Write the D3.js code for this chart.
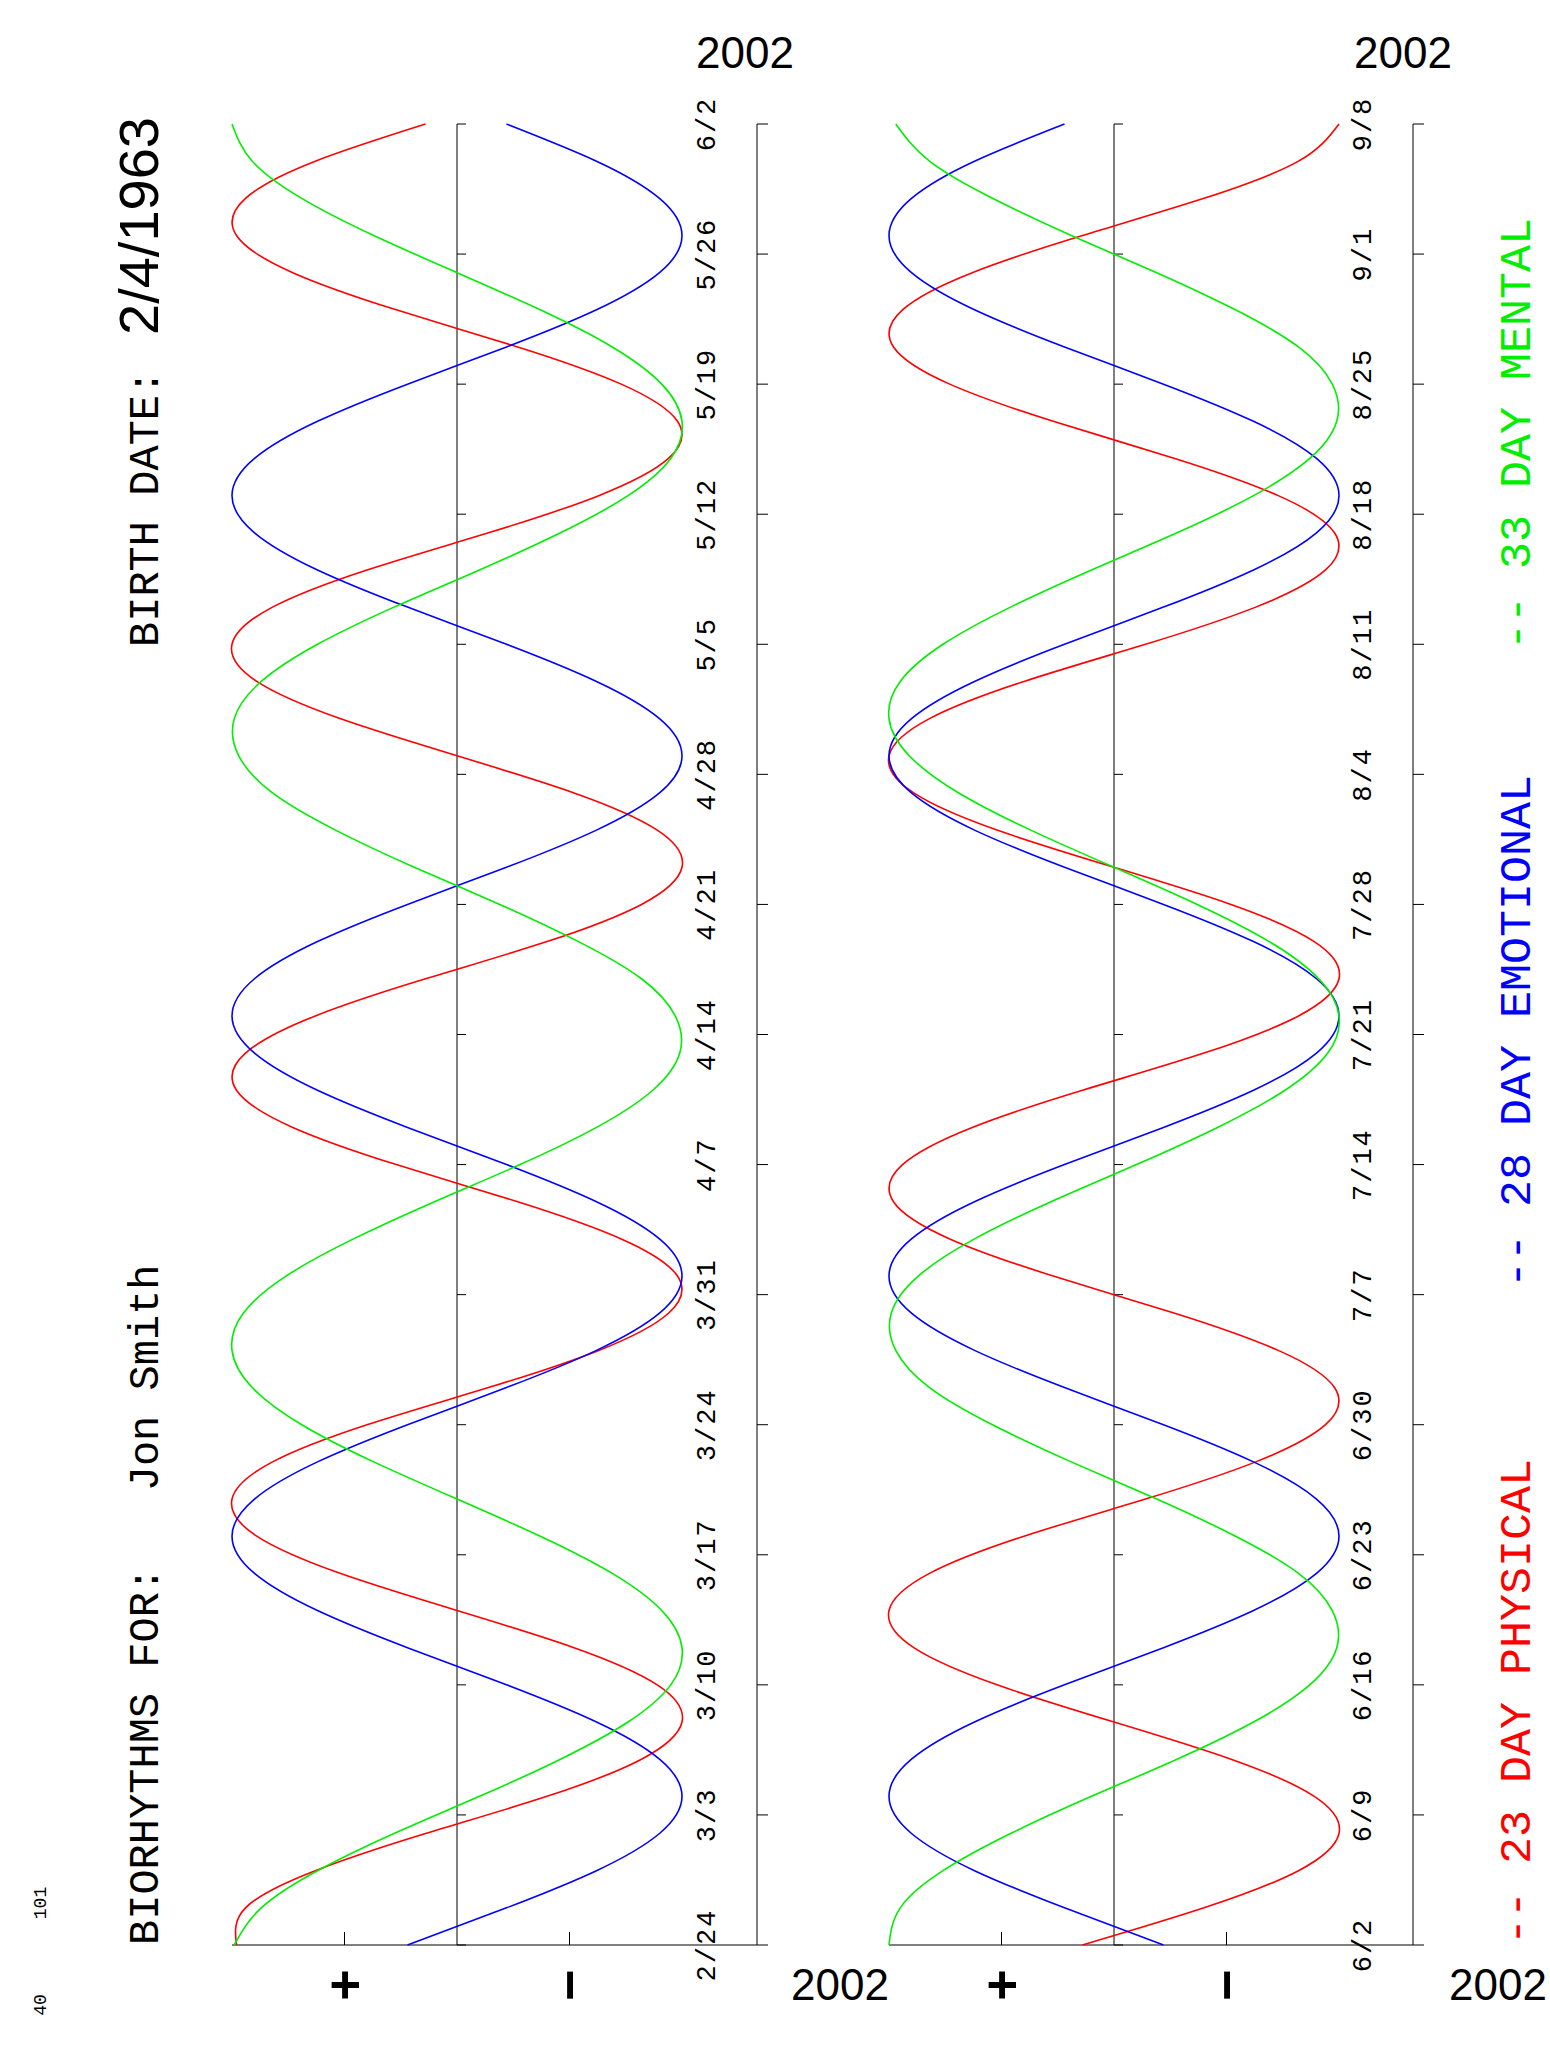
<!DOCTYPE html>
<html><head><meta charset="utf-8">
<script src="https://cdn.jsdelivr.net/npm/d3@7"></script>
<style>body{margin:0;background:#fff}</style>
</head><body>
<svg id="chart" width="1550" height="2048"></svg>
<script>
// one sample every 2 days, starting 2/24/2002, ending 9/8/2002
const startDate = new Date(2002, 1, 24);
const stepDays = 2;

const physical = [
  0.98,0.94,0.63,0.14,-0.40,-0.82,-1.00,-0.89,-0.52,0,0.52,0.89,1.00,0.82,0.40,-0.14,-0.63,-0.94,-0.98,-0.73,-0.27,0.27,0.73,
  0.98,0.94,0.63,0.14,-0.40,-0.82,-1.00,-0.89,-0.52,0,0.52,0.89,1.00,0.82,0.40,-0.14,-0.63,-0.94,-0.98,-0.73,-0.27,0.27,0.73,
  0.98,0.94,0.63,0.14,-0.40,-0.82,-1.00,-0.89,-0.52,0,0.52,0.89,1.00,0.82,0.40,-0.14,-0.63,-0.94,-0.98,-0.73,-0.27,0.27,0.73,
  0.98,0.94,0.63,0.14,-0.40,-0.82,-1.00,-0.89,-0.52,0,0.52,0.89,1.00,0.82,0.40,-0.14,-0.63,-0.94,-0.98,-0.73,-0.27,0.27,0.73,
  0.98,0.94,0.63,0.14,-0.40,-0.82,-1.00
];
const emotional = [
  0.22,-0.22,-0.62,-0.90,-1.00,-0.90,-0.62,-0.22,0.22,0.62,0.90,1.00,0.90,0.62,
  0.22,-0.22,-0.62,-0.90,-1.00,-0.90,-0.62,-0.22,0.22,0.62,0.90,1.00,0.90,0.62,
  0.22,-0.22,-0.62,-0.90,-1.00,-0.90,-0.62,-0.22,0.22,0.62,0.90,1.00,0.90,0.62,
  0.22,-0.22,-0.62,-0.90,-1.00,-0.90,-0.62,-0.22,0.22,0.62,0.90,1.00,0.90,0.62,
  0.22,-0.22,-0.62,-0.90,-1.00,-0.90,-0.62,-0.22,0.22,0.62,0.90,1.00,0.90,0.62,
  0.22,-0.22,-0.62,-0.90,-1.00,-0.90,-0.62,-0.22,0.22,0.62,0.90,1.00,0.90,0.62,
  0.22,-0.22,-0.62,-0.90,-1.00,-0.90,-0.62,-0.22,0.22,0.62,0.90,1.00,0.90,0.62,
  0.22
];
const mental = [
  0.99,0.87,0.62,0.28,-0.10,-0.46,-0.76,-0.95,-1.00,-0.91,-0.69,-0.37,0,0.37,0.69,0.91,1.00,0.95,0.76,0.46,0.10,-0.28,-0.62,-0.87,-0.99,-0.97,-0.82,-0.54,-0.19,0.19,0.54,0.82,0.97,
  0.99,0.87,0.62,0.28,-0.10,-0.46,-0.76,-0.95,-1.00,-0.91,-0.69,-0.37,0,0.37,0.69,0.91,1.00,0.95,0.76,0.46,0.10,-0.28,-0.62,-0.87,-0.99,-0.97,-0.82,-0.54,-0.19,0.19,0.54,0.82,0.97,
  0.99,0.87,0.62,0.28,-0.10,-0.46,-0.76,-0.95,-1.00,-0.91,-0.69,-0.37,0,0.37,0.69,0.91,1.00,0.95,0.76,0.46,0.10,-0.28,-0.62,-0.87,-0.99,-0.97,-0.82,-0.54,-0.19,0.19,0.54,0.82,0.97
];
const topTicks = ['2/24','3/3','3/10','3/17','3/24','3/31','4/7','4/14','4/21','4/28','5/5','5/12','5/19','5/26','6/2'];
const bottomTicks = ['6/2','6/9','6/16','6/23','6/30','7/7','7/14','7/21','7/28','8/4','8/11','8/18','8/25','9/1','9/8'];
const legendItems = ['-- 23 DAY PHYSICAL', '-- 28 DAY EMOTIONAL', '-- 33 DAY MENTAL'];
const colors = ['#ff0000', '#0000ff', '#00ee00'];

const svg = d3.select('#chart');
const H = 2048;
// draw the landscape chart, then turn it a quarter counter-clockwise
const g = svg.append('g').attr('transform', `translate(0,${H}) rotate(-90)`);
const mono = 'Liberation Mono, Courier New, monospace';

const dayOf = (j) => d3.timeDay.offset(startDate, j * stepDays);
const series = [physical, emotional, mental];

function panel(firstJ, tickLabels, top, axisY) {
  const d0 = dayOf(firstJ);
  const d1 = d3.timeDay.offset(d0, 98);
  const x = d3.scaleTime().domain([d0, d1]).range([103, 1924]);
  const y = d3.scaleLinear().domain([1, -1]).range([top, top + 450]);
  const tickDates = tickLabels.map((_, i) => d3.timeDay.offset(d0, i * 7));

  // zero line and date axis
  g.append('line').attr('x1', 103).attr('x2', 1924).attr('y1', y(0)).attr('y2', y(0)).attr('stroke', '#000');
  g.append('line').attr('x1', 103).attr('x2', 1924).attr('y1', axisY).attr('y2', axisY).attr('stroke', '#000');
  tickDates.forEach((d, i) => {
    g.append('line').attr('x1', x(d)).attr('x2', x(d)).attr('y1', y(0)).attr('y2', y(0) + 9).attr('stroke', '#000');
    g.append('line').attr('x1', x(d)).attr('x2', x(d)).attr('y1', axisY).attr('y2', axisY + 11).attr('stroke', '#000');
    g.append('text').attr('x', x(d)).attr('y', axisY - 42).attr('text-anchor', 'middle')
      .attr('font-family', mono).attr('font-size', 27).attr('letter-spacing', 2).text(tickLabels[i]);
  });

  // value axis
  g.append('line').attr('x1', 103).attr('x2', 103).attr('y1', y(1)).attr('y2', axisY).attr('stroke', '#000');
  [0.5, -0.5].forEach(v => {
    g.append('line').attr('x1', 103).attr('x2', 116).attr('y1', y(v)).attr('y2', y(v)).attr('stroke', '#000');
  });
  g.append('text').attr('x', 63).attr('y', y(0.5)).attr('dy', '0.35em').attr('text-anchor', 'middle')
    .attr('font-family', 'Liberation Sans, Arial').attr('font-weight', 'bold').attr('font-size', 54).text('+');
  g.append('text').attr('x', 63).attr('y', y(-0.5)).attr('dy', '0.35em').attr('text-anchor', 'middle')
    .attr('font-family', 'Liberation Sans, Arial').attr('font-weight', 'bold').attr('font-size', 54).text('\u2212');

  const line = d3.line().x(d => x(d.date)).y(d => y(d.v)).curve(d3.curveNatural);
  series.forEach((s, k) => {
    const pts = s.slice(firstJ, firstJ + 50).map((v, i) => ({ date: dayOf(firstJ + i), v }));
    g.append('path').attr('d', line(pts)).attr('fill', 'none')
      .attr('stroke', colors[k]).attr('stroke-width', 1.6);
  });
}

panel(0, topTicks, 232, 757);
panel(49, bottomTicks, 889, 1413);

// titles
g.append('text').attr('x', 103).attr('y', 158).attr('font-family', mono).attr('font-size', 42)
  .style('white-space', 'pre').text('BIORHYTHMS FOR:   Jon Smith');
g.append('text').attr('x', 1401).attr('y', 158).attr('font-family', mono).attr('font-size', 42).text('BIRTH DATE:');
g.append('text').attr('x', 1713).attr('y', 158).attr('font-family', 'Liberation Sans, Arial').attr('font-size', 56).text('2/4/1963');

// legend
const legendX = [103, 760, 1398];
legendItems.forEach((t, i) => {
  g.append('text').attr('x', legendX[i]).attr('y', 1530).attr('font-family', mono).attr('font-size', 45)
    .attr('fill', colors[i]).style('white-space', 'pre').text(t);
});

// page markers
g.append('text').attr('x', H - 1903).attr('y', 46).attr('text-anchor', 'middle').attr('font-family', mono).attr('font-size', 18).text('101');
g.append('text').attr('x', H - 2005).attr('y', 46).attr('text-anchor', 'middle').attr('font-family', mono).attr('font-size', 18).text('40');

// year labels (upright)
const yearFont = 'Liberation Sans Narrow, Arial Narrow, Liberation Sans, Arial';
[[745, 68], [1403, 68], [840, 2000], [1498, 2000]].forEach(([px, py]) => {
  svg.append('text').attr('x', px).attr('y', py).attr('text-anchor', 'middle')
    .attr('font-family', yearFont).attr('font-size', 44).text('2002');
});
</script>
</body></html>
